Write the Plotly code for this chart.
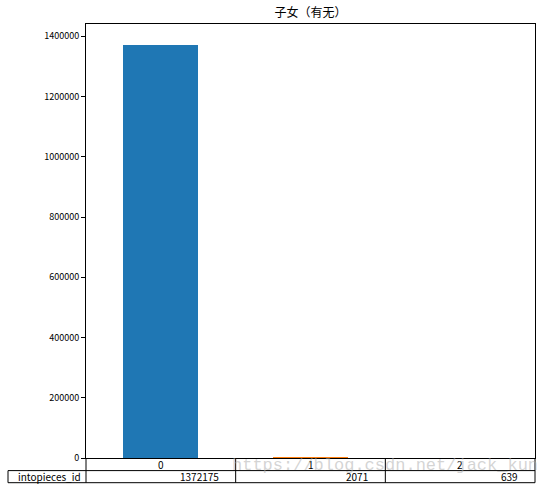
import plotly.graph_objects as go

# ---- data ----
categories = ["0", "1", "2"]
values = [1372175, 2071, 639]
row_label = "intopieces_id"
title_text = "子女（有无）"
bar_colors = ["#1f77b4", "#ff7f0e", "#2ca02c"]
watermark = "https://blog.csdn.net/jack_kun"

# ---- layout geometry (pixels) ----
W, H = 542, 488
L, R, T, B = 86, 7, 24, 30
pw = W - L - R
ph = H - T - B
xr = [-0.5, len(categories) - 0.5]
yr = [0, max(values) * 1.05]

row1 = 12.6   # header row height (px)
row2 = 12.1   # data row height (px)
label_w = 78  # row-label column width (px)

def xp(v):
    """data x -> paper x"""
    return (v - xr[0]) / (xr[1] - xr[0])

def yp(px_below):
    """pixels below the x axis -> paper y"""
    return -px_below / ph

font_main = "Noto Sans CJK SC, Liberation Sans, sans-serif"

fig = go.Figure(
    go.Bar(
        x=list(range(len(categories))),
        y=values,
        width=0.5,
        marker=dict(color=bar_colors, line=dict(width=0)),
        showlegend=False,
        hoverinfo="skip",
    )
)

shapes = []
line = dict(color="black", width=1)
label_left = -label_w / pw
right_edge = xp(xr[1])
shapes.append(dict(type="line", xref="paper", yref="paper", x0=label_left, x1=right_edge,
                   y0=yp(row1), y1=yp(row1), line=line))
shapes.append(dict(type="line", xref="paper", yref="paper", x0=label_left, x1=right_edge,
                   y0=yp(row1 + row2), y1=yp(row1 + row2), line=line))
shapes.append(dict(type="line", xref="paper", yref="paper", x0=label_left, x1=label_left,
                   y0=yp(row1), y1=yp(row1 + row2), line=line))
for i in range(len(categories) + 1):
    xv = xp(i - 0.5)
    shapes.append(dict(type="line", xref="paper", yref="paper", x0=xv, x1=xv,
                       y0=yp(0), y1=yp(row1 + row2), line=line))

annotations = []
tfont = dict(family=font_main, size=10, color="black")
for i, c in enumerate(categories):
    annotations.append(dict(text=c, xref="paper", yref="paper", x=xp(i), y=yp(row1 / 2),
                            xanchor="center", yanchor="middle", showarrow=False, font=tfont))
    annotations.append(dict(text=str(values[i]), xref="paper", yref="paper",
                            x=xp(i + 0.5) - 0.1 * (pw / len(categories)) / pw,
                            y=yp(row1 + row2 / 2), xanchor="right", yanchor="middle",
                            showarrow=False, font=tfont))
annotations.append(dict(text=row_label, xref="paper", yref="paper",
                        x=label_left + 0.1 * label_w / pw, y=yp(row1 + row2 / 2),
                        xanchor="left", yanchor="middle", showarrow=False, font=tfont))
# watermark
annotations.append(dict(text=watermark, xref="paper", yref="paper",
                        x=(230 - L) / pw, y=yp(7), xanchor="left", yanchor="middle",
                        showarrow=False,
                        font=dict(family="Liberation Mono, DejaVu Sans Mono, monospace",
                                  size=17, color="rgba(170,170,170,0.5)")))

fig.update_layout(
    width=W, height=H,
    margin=dict(l=L, r=R, t=T, b=B, pad=0),
    paper_bgcolor="white", plot_bgcolor="white",
    title=dict(text=title_text, x=xp(1), xref="paper", xanchor="center",
               y=1 - 13 / H, yref="container", yanchor="middle",
               font=dict(family=font_main, size=12, color="black")),
    xaxis=dict(range=xr, showticklabels=False, ticks="", showgrid=False, zeroline=False,
               showline=True, mirror=True, linecolor="black", linewidth=1, fixedrange=True),
    yaxis=dict(range=yr, dtick=200000, tickformat="d", ticks="outside", ticklen=4,
               tickcolor="black", tickwidth=1, showgrid=False, zeroline=False,
               showline=True, mirror=True, linecolor="black", linewidth=1,
               tickfont=dict(family=font_main, size=9, color="black")),
    shapes=shapes,
    annotations=annotations,
    bargap=0,
)

fig.write_html("out.html",
               config={"displayModeBar": False, "staticPlot": True},
               post_script="document.body.style.margin='0';document.body.style.overflow='hidden';")
